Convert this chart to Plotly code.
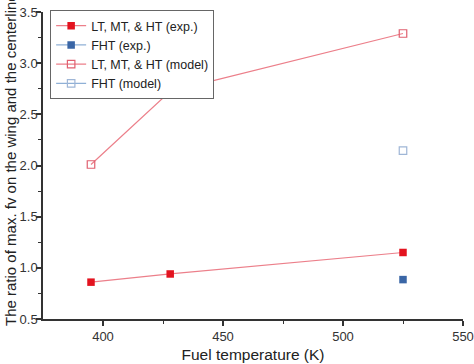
import plotly.graph_objects as go

temp_main = [395, 428, 525]
exp_main = [0.86, 0.94, 1.15]
model_main = [2.01, 2.725, 3.29]
temp_fht = [525]
exp_fht = [0.885]
model_fht = [2.145]
y_title = "The ratio of max. fv on the wing and the centerline"
x_title = "Fuel temperature (K)"

FONT = "Arial, Liberation Sans, sans-serif"

fig = go.Figure()
fig.add_trace(go.Scatter(x=temp_main, y=exp_main, mode="lines+markers", name="LT, MT, & HT (exp.)",
                         line=dict(color="#ec7f8a", width=1.2),
                         marker=dict(symbol="square", size=7.5, color="#e3131f")))
fig.add_trace(go.Scatter(x=temp_fht, y=exp_fht, mode="lines+markers", name="FHT (exp.)",
                         line=dict(color="#8fb0d6", width=1.2),
                         marker=dict(symbol="square", size=7.5, color="#3a66a6")))
fig.add_trace(go.Scatter(x=temp_main, y=model_main, mode="lines+markers", name="LT, MT, & HT (model)",
                         line=dict(color="#ec7f8a", width=1.2),
                         marker=dict(symbol="square-open", size=7.5, color="#e06070", line=dict(width=1.2))))
fig.add_trace(go.Scatter(x=temp_fht, y=model_fht, mode="lines+markers", name="FHT (model)",
                         line=dict(color="#8fb0d6", width=1.2),
                         marker=dict(symbol="square-open", size=7.5, color="#9fb6d6", line=dict(width=1.2))))

axis_common = dict(showline=True, linecolor="#333333", linewidth=1.5, ticks="outside",
                   tickcolor="#333333", tickwidth=1.5, ticklen=5, showgrid=False, zeroline=False,
                   automargin=False,
                   tickfont=dict(family=FONT, size=13, color="#333333"))

fig.update_xaxes(range=[375, 550], tickvals=[400, 450, 500, 550],
                 minor=dict(tickvals=[425, 475, 525], ticks="outside", ticklen=3, tickcolor="#333333", tickwidth=1.2),
                 title=dict(text=x_title, font=dict(family=FONT, size=15.5, color="#222222"), standoff=6),
                 **axis_common)
fig.update_yaxes(range=[0.5, 3.5], tickvals=[0.5, 1.0, 1.5, 2.0, 2.5, 3.0, 3.5], ticktext=["0.5", "1.0", "1.5", "2.0", "2.5", "3.0", "3.5"],
                 minor=dict(tickvals=[0.75, 1.25, 1.75, 2.25, 2.75, 3.25], ticks="outside", ticklen=3, tickcolor="#333333", tickwidth=1.2),
                 ticklabelstandoff=-4,
                 **axis_common)

fig.add_annotation(text=y_title, textangle=-90, xref="paper", yref="paper",
                   x=-43 / 420, xanchor="left", y=0.5, yanchor="middle", yshift=6,
                   showarrow=False, font=dict(family=FONT, size=15, color="#222222"))

fig.update_layout(width=474, height=364, margin=dict(l=43, r=11, t=11, b=45),
                  plot_bgcolor="white", paper_bgcolor="white",
                  legend=dict(x=0.017, y=1.003, xanchor="left", yanchor="top", bordercolor="#666666", borderwidth=1,
                              bgcolor="white", font=dict(family=FONT, size=12.5, color="#222222"),
                              tracegroupgap=0, itemwidth=30),
                  showlegend=True)

fig.write_html("out.html", config={"displayModeBar": False},
               post_script="document.body.style.margin='0';document.body.style.overflow='hidden';")
